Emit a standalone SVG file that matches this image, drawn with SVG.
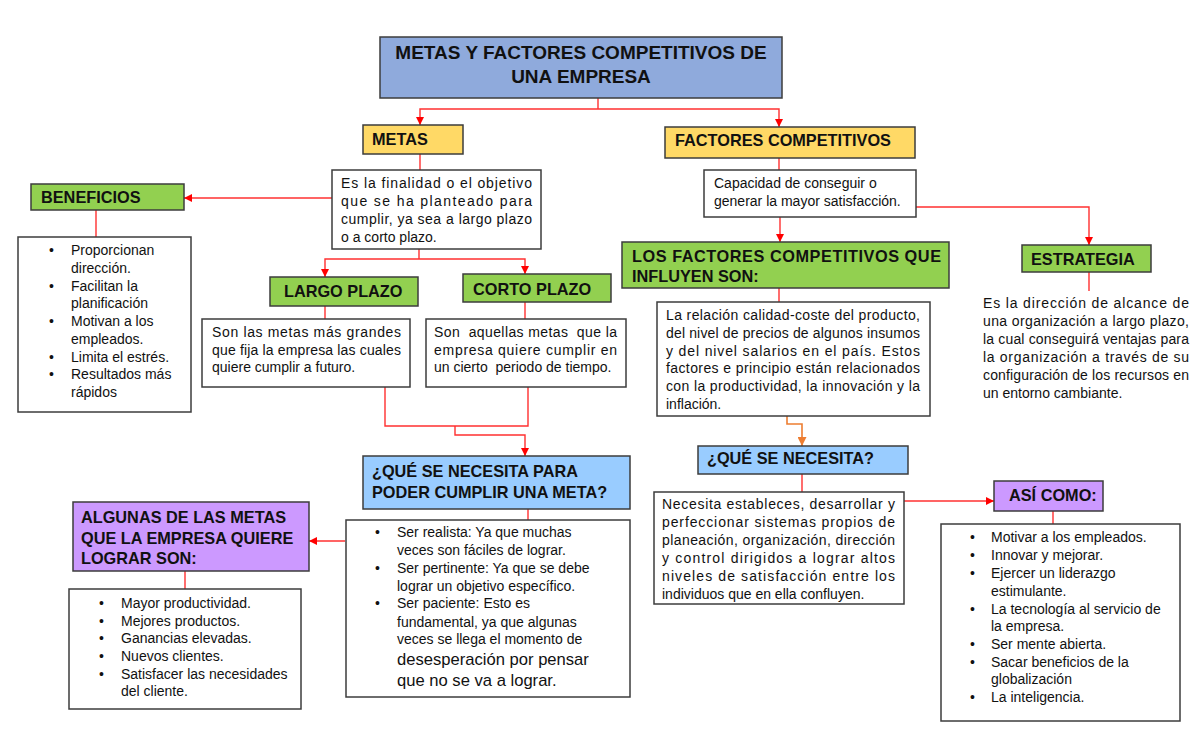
<svg xmlns="http://www.w3.org/2000/svg" width="1200" height="729" viewBox="0 0 1200 729">
<style>
.bx{stroke:#3c3c3c;stroke-width:1.5}
.w{fill:#ffffff}
.blue{fill:#8FAADC}
.yel{fill:#FFD966}
.grn{fill:#92D050}
.lb{fill:#99CCFF}
.pur{fill:#CC99FF}
.t{font-family:"Liberation Sans",Arial,sans-serif;font-size:14px;fill:#111}
.tb{font-family:"Liberation Sans",Arial,sans-serif;font-size:16.6px;fill:#111}
.h{font-family:"Liberation Sans",Arial,sans-serif;font-weight:bold;font-size:16.3px;fill:#111}
.c{fill:none;stroke:#FF3030;stroke-width:1.4}
.o{fill:none;stroke:#ED7D31;stroke-width:1.6}
</style>
<defs>
<marker id="ar" viewBox="0 0 8 8" refX="8" refY="4" markerWidth="8" markerHeight="8" markerUnits="userSpaceOnUse" orient="auto"><path d="M0,0 L8,4 L0,8 z" fill="#FF0000"/></marker>
<marker id="ao" viewBox="0 0 8 8" refX="8" refY="4" markerWidth="9" markerHeight="9" markerUnits="userSpaceOnUse" orient="auto"><path d="M0,0 L8,4 L0,8 z" fill="#ED7D31"/></marker>
</defs>
<rect width="1200" height="729" fill="#ffffff"/>

<g id="connectors">
<path class="c" d="M598,98 V109"/>
<path class="c" d="M598,109 H420 V125" marker-end="url(#ar)"/>
<path class="c" d="M598,109 H779 V127" marker-end="url(#ar)"/>
<path class="c" d="M420,154 V170"/>
<path class="c" d="M332,198 H184" marker-end="url(#ar)"/>
<path class="c" d="M96,210 V237"/>
<path class="c" d="M419,249 V259"/>
<path class="c" d="M419,259 H325 V277" marker-end="url(#ar)"/>
<path class="c" d="M419,259 H525 V274" marker-end="url(#ar)"/>
<path class="c" d="M325,306 V319"/>
<path class="c" d="M525,302 V319"/>
<path class="c" d="M385,387 V426 H528 V387"/>
<path class="c" d="M455,426 V435 H525 V456" marker-end="url(#ar)"/>
<path class="c" d="M528,509 V520"/>
<path class="c" d="M345,541 H309" marker-end="url(#ar)"/>
<path class="c" d="M185,571 V589"/>
<path class="c" d="M779,158 V170"/>
<path class="c" d="M780,217 V242" marker-end="url(#ar)"/>
<path class="c" d="M916,207 H1089 V245" marker-end="url(#ar)"/>
<path class="c" d="M1089,272 V291"/>
<path class="c" d="M779,288 V302"/>
<path class="o" d="M787,416 V424 H802 V446" marker-end="url(#ao)"/>
<path class="c" d="M802,474 V492"/>
<path class="c" d="M904,501 H994" marker-end="url(#ar)"/>
<path class="c" d="M1053,511 V524"/>
</g>

<g id="title">
<rect class="bx blue" x="380" y="37" width="402" height="61"/>
<text class="h" style="font-size:19px" x="581" y="59" text-anchor="middle">METAS Y FACTORES COMPETITIVOS DE</text>
<text class="h" style="font-size:19px" x="581" y="83" text-anchor="middle">UNA EMPRESA</text>
</g>

<g id="metas">
<rect class="bx yel" x="363" y="125" width="100" height="29"/>
<text class="h" x="372" y="145">METAS</text>
</g>

<g id="metas-desc">
<rect class="bx w" x="332" y="170" width="209" height="79"/>
<text class="t" x="341" y="188" textLength="191" lengthAdjust="spacing">Es la finalidad o el objetivo</text>
<text class="t" x="341" y="206" textLength="191" lengthAdjust="spacing">que se ha planteado para</text>
<text class="t" x="341" y="224" textLength="191" lengthAdjust="spacing">cumplir, ya sea a largo plazo</text>
<text class="t" x="341" y="242">o a corto plazo.</text>
</g>

<g id="beneficios">
<rect class="bx grn" x="31" y="184" width="153" height="26"/>
<text class="h" x="41" y="203">BENEFICIOS</text>
</g>

<g id="beneficios-list">
<rect class="bx w" x="18" y="237" width="173" height="175"/>
<text class="t" x="49" y="255">•</text><text class="t" x="71" y="255">Proporcionan</text>
<text class="t" x="71" y="273">dirección.</text>
<text class="t" x="49" y="291">•</text><text class="t" x="71" y="291">Facilitan la</text>
<text class="t" x="71" y="308">planificación</text>
<text class="t" x="49" y="326">•</text><text class="t" x="71" y="326">Motivan a los</text>
<text class="t" x="71" y="344">empleados.</text>
<text class="t" x="49" y="362">•</text><text class="t" x="71" y="362">Limita el estrés.</text>
<text class="t" x="49" y="379">•</text><text class="t" x="71" y="379">Resultados más</text>
<text class="t" x="71" y="397">rápidos</text>
</g>

<g id="largo">
<rect class="bx grn" x="270" y="277" width="148" height="29"/>
<text class="h" x="284" y="297">LARGO PLAZO</text>
</g>

<g id="corto">
<rect class="bx grn" x="463" y="274" width="148" height="28"/>
<text class="h" x="473" y="295">CORTO PLAZO</text>
</g>

<g id="largo-desc">
<rect class="bx w" x="202" y="319" width="208" height="68"/>
<text class="t" x="212" y="337" textLength="189" lengthAdjust="spacing">Son las metas más grandes</text>
<text class="t" x="212" y="355" textLength="189" lengthAdjust="spacing">que fija la empresa las cuales</text>
<text class="t" x="212" y="372">quiere cumplir a futuro.</text>
</g>

<g id="corto-desc">
<rect class="bx w" x="426" y="319" width="200" height="68"/>
<text class="t" x="434" y="337" textLength="183" lengthAdjust="spacing">Son &#160;aquellas metas &#160;que la</text>
<text class="t" x="434" y="355" textLength="183" lengthAdjust="spacing">empresa quiere cumplir en</text>
<text class="t" x="434" y="372">un cierto &#160;periodo de tiempo.</text>
</g>

<g id="que-meta">
<rect class="bx lb" x="363" y="456" width="267" height="53"/>
<text class="h" x="372" y="477">¿QUÉ SE NECESITA PARA</text>
<text class="h" x="372" y="498">PODER CUMPLIR UNA META?</text>
</g>

<g id="que-meta-list">
<rect class="bx w" x="346" y="520" width="284" height="177"/>
<text class="t" x="375" y="537">•</text><text class="t" x="397" y="537">Ser realista: Ya que muchas</text>
<text class="t" x="397" y="555">veces son fáciles de lograr.</text>
<text class="t" x="375" y="573">•</text><text class="t" x="397" y="573">Ser pertinente: Ya que se debe</text>
<text class="t" x="397" y="591">lograr un objetivo específico.</text>
<text class="t" x="375" y="608">•</text><text class="t" x="397" y="608">Ser paciente: Esto es</text>
<text class="t" x="397" y="627">fundamental, ya que algunas</text>
<text class="t" x="397" y="644">veces se llega el momento de</text>
<text class="tb" x="397" y="665">desesperación por pensar</text>
<text class="tb" x="397" y="686">que no se va a lograr.</text>
</g>

<g id="algunas">
<rect class="bx pur" x="73" y="502" width="236" height="69"/>
<text class="h" x="81" y="523">ALGUNAS DE LAS METAS</text>
<text class="h" x="81" y="544">QUE LA EMPRESA QUIERE</text>
<text class="h" x="81" y="564">LOGRAR SON:</text>
</g>

<g id="algunas-list">
<rect class="bx w" x="69" y="589" width="232" height="120"/>
<text class="t" x="99" y="608">•</text><text class="t" x="121" y="608">Mayor productividad.</text>
<text class="t" x="99" y="625.5">•</text><text class="t" x="121" y="625.5">Mejores productos.</text>
<text class="t" x="99" y="643">•</text><text class="t" x="121" y="643">Ganancias elevadas.</text>
<text class="t" x="99" y="661">•</text><text class="t" x="121" y="661">Nuevos clientes.</text>
<text class="t" x="99" y="679">•</text><text class="t" x="121" y="679">Satisfacer las necesidades</text>
<text class="t" x="121" y="696">del cliente.</text>
</g>

<g id="factores">
<rect class="bx yel" x="665" y="127" width="250" height="31"/>
<text class="h" x="675" y="146">FACTORES COMPETITIVOS</text>
</g>

<g id="factores-desc">
<rect class="bx w" x="704" y="170" width="212" height="47"/>
<text class="t" x="714" y="188">Capacidad de conseguir o</text>
<text class="t" x="714" y="206">generar la mayor satisfacción.</text>
</g>

<g id="influyen">
<rect class="bx grn" x="622" y="242" width="327" height="46"/>
<text class="h" x="632" y="262" textLength="309" lengthAdjust="spacing">LOS FACTORES COMPETITIVOS QUE</text>
<text class="h" x="632" y="282">INFLUYEN SON:</text>
</g>

<g id="influyen-desc">
<rect class="bx w" x="657" y="302" width="273" height="114"/>
<text class="t" x="666" y="320" textLength="254" lengthAdjust="spacing">La relación calidad-coste del producto,</text>
<text class="t" x="666" y="338" textLength="254" lengthAdjust="spacing">del nivel de precios de algunos insumos</text>
<text class="t" x="666" y="356" textLength="254" lengthAdjust="spacing">y del nivel salarios en el país. Estos</text>
<text class="t" x="666" y="373" textLength="254" lengthAdjust="spacing">factores e principio están relacionados</text>
<text class="t" x="666" y="391" textLength="254" lengthAdjust="spacing">con la productividad, la innovación y la</text>
<text class="t" x="666" y="409">inflación.</text>
</g>

<g id="estrategia">
<rect class="bx grn" x="1022" y="245" width="129" height="27"/>
<text class="h" x="1031" y="265">ESTRATEGIA</text>
</g>

<g id="estrategia-desc">
<text class="t" x="983" y="308" textLength="206" lengthAdjust="spacing">Es la dirección de alcance de</text>
<text class="t" x="983" y="326" textLength="206" lengthAdjust="spacing">una organización a largo plazo,</text>
<text class="t" x="983" y="344" textLength="206" lengthAdjust="spacing">la cual conseguirá ventajas para</text>
<text class="t" x="983" y="362" textLength="206" lengthAdjust="spacing">la organización a través de su</text>
<text class="t" x="983" y="380" textLength="206" lengthAdjust="spacing">configuración de los recursos en</text>
<text class="t" x="983" y="398">un entorno cambiante.</text>
</g>

<g id="que-necesita">
<rect class="bx lb" x="698" y="446" width="210" height="28"/>
<text class="h" x="707" y="464">¿QUÉ SE NECESITA?</text>
</g>

<g id="necesita-desc">
<rect class="bx w" x="654" y="492" width="250" height="112"/>
<text class="t" x="662" y="509" textLength="233" lengthAdjust="spacing">Necesita estableces, desarrollar y</text>
<text class="t" x="662" y="527" textLength="233" lengthAdjust="spacing">perfeccionar sistemas propios de</text>
<text class="t" x="662" y="545" textLength="233" lengthAdjust="spacing">planeación, organización, dirección</text>
<text class="t" x="662" y="563" textLength="233" lengthAdjust="spacing">y control dirigidos a lograr altos</text>
<text class="t" x="662" y="581" textLength="233" lengthAdjust="spacing">niveles de satisfacción entre los</text>
<text class="t" x="662" y="599">individuos que en ella confluyen.</text>
</g>

<g id="asi-como">
<rect class="bx pur" x="994" y="481" width="109" height="30"/>
<text class="h" x="1009" y="501">ASÍ COMO:</text>
</g>

<g id="asi-como-list">
<rect class="bx w" x="941" y="524" width="239" height="197"/>
<text class="t" x="970" y="542">•</text><text class="t" x="991" y="542">Motivar a los empleados.</text>
<text class="t" x="970" y="560">•</text><text class="t" x="991" y="560">Innovar y mejorar.</text>
<text class="t" x="970" y="578">•</text><text class="t" x="991" y="578">Ejercer un liderazgo</text>
<text class="t" x="991" y="596">estimulante.</text>
<text class="t" x="970" y="614">•</text><text class="t" x="991" y="614">La tecnología al servicio de</text>
<text class="t" x="991" y="631">la empresa.</text>
<text class="t" x="970" y="649">•</text><text class="t" x="991" y="649">Ser mente abierta.</text>
<text class="t" x="970" y="667">•</text><text class="t" x="991" y="667">Sacar beneficios de la</text>
<text class="t" x="991" y="684">globalización</text>
<text class="t" x="970" y="702">•</text><text class="t" x="991" y="702">La inteligencia.</text>
</g>
</svg>
